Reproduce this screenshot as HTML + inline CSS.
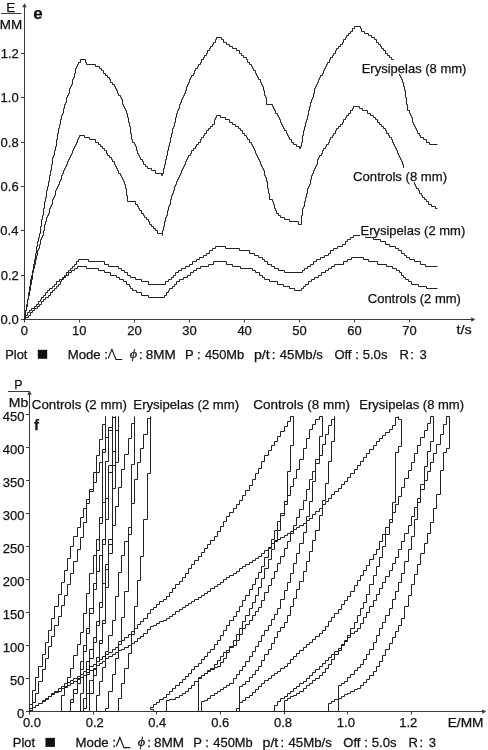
<!DOCTYPE html>
<html><head><meta charset="utf-8"><title>Plot</title>
<style>html,body{margin:0;padding:0;background:#fff;overflow:hidden}svg{display:block}</style>
</head><body>
<svg width="488" height="750" viewBox="0 0 488 750"><rect width="488" height="750" fill="#fff"/><g stroke="#3a3a3a" stroke-width="1" fill="none"><line x1="24.5" y1="6" x2="24.5" y2="320"/><line x1="24" y1="319.5" x2="472" y2="319.5"/><line x1="21" y1="319.5" x2="24.5" y2="319.5"/><line x1="21" y1="275.5" x2="24.5" y2="275.5"/><line x1="21" y1="230.5" x2="24.5" y2="230.5"/><line x1="21" y1="186.5" x2="24.5" y2="186.5"/><line x1="21" y1="142.5" x2="24.5" y2="142.5"/><line x1="21" y1="97.5" x2="24.5" y2="97.5"/><line x1="21" y1="53.5" x2="24.5" y2="53.5"/><line x1="24.5" y1="319.5" x2="24.5" y2="322.5"/><line x1="79.5" y1="319.5" x2="79.5" y2="322.5"/><line x1="134.5" y1="319.5" x2="134.5" y2="322.5"/><line x1="189.5" y1="319.5" x2="189.5" y2="322.5"/><line x1="244.5" y1="319.5" x2="244.5" y2="322.5"/><line x1="299.5" y1="319.5" x2="299.5" y2="322.5"/><line x1="354.5" y1="319.5" x2="354.5" y2="322.5"/><line x1="409.5" y1="319.5" x2="409.5" y2="322.5"/><line x1="1" y1="13.5" x2="21.5" y2="13.5"/></g><path d="M24.5,3.3 L22.2,7.2 L26.8,7.2 Z" fill="#3a3a3a"/><path d="M475.2,319.5 L471.2,317.2 L471.2,321.8 Z" fill="#3a3a3a"/><g fill="none" stroke="#222" stroke-width="1"><polyline points="24.5,319.5 24.5,315.5 25.5,315.5 25.5,310.5 26.5,310.5 26.5,304.5 27.5,304.5 27.5,299.5 28.5,299.5 28.5,292.5 29.5,292.5 29.5,286.5 30.5,286.5 30.5,279.5 31.5,279.5 31.5,275.5 32.5,275.5 32.5,270.5 33.5,270.5 33.5,264.5 34.5,264.5 34.5,259.5 35.5,259.5 35.5,253.5 36.5,253.5 36.5,246.5 37.5,246.5 37.5,241.5 38.5,241.5 38.5,237.5 39.5,237.5 39.5,233.5 40.5,233.5 40.5,226.5 41.5,226.5 41.5,219.5 42.5,219.5 42.5,215.5 43.5,215.5 43.5,208.5 44.5,208.5 44.5,201.5 45.5,201.5 45.5,197.5 46.5,197.5 46.5,190.5 47.5,190.5 47.5,186.5 48.5,186.5 48.5,181.5 49.5,181.5 49.5,175.5 50.5,175.5 50.5,170.5 51.5,170.5 51.5,164.5 52.5,164.5 52.5,157.5 53.5,157.5 53.5,155.5 54.5,155.5 54.5,150.5 55.5,150.5 55.5,146.5 56.5,146.5 56.5,139.5 57.5,139.5 57.5,133.5 58.5,133.5 58.5,128.5 59.5,128.5 59.5,124.5 60.5,124.5 60.5,119.5 61.5,119.5 61.5,115.5 62.5,115.5 62.5,113.5 63.5,113.5 63.5,108.5 64.5,108.5 64.5,104.5 65.5,104.5 65.5,102.5 66.5,102.5 66.5,97.5 67.5,97.5 67.5,95.5 68.5,95.5 68.5,93.5 69.5,93.5 69.5,88.5 70.5,88.5 70.5,86.5 71.5,86.5 71.5,84.5 72.5,84.5 72.5,79.5 73.5,79.5 73.5,77.5 74.5,77.5 74.5,73.5 75.5,73.5 75.5,68.5 76.5,68.5 76.5,66.5 77.5,66.5 77.5,64.5 78.5,64.5 78.5,62.5 80.5,62.5 80.5,59.5 85.5,59.5 85.5,62.5 86.5,62.5 86.5,64.5 95.5,64.5 95.5,66.5 99.5,66.5 99.5,68.5 101.5,68.5 101.5,70.5 103.5,70.5 103.5,73.5 105.5,73.5 105.5,75.5 107.5,75.5 107.5,77.5 109.5,77.5 109.5,79.5 110.5,79.5 110.5,82.5 112.5,82.5 112.5,84.5 114.5,84.5 114.5,86.5 115.5,86.5 115.5,88.5 116.5,88.5 116.5,90.5 117.5,90.5 117.5,93.5 118.5,93.5 118.5,95.5 120.5,95.5 120.5,97.5 121.5,97.5 121.5,99.5 122.5,99.5 122.5,104.5 123.5,104.5 123.5,106.5 124.5,106.5 124.5,108.5 125.5,108.5 125.5,110.5 126.5,110.5 126.5,113.5 127.5,113.5 127.5,117.5 128.5,117.5 128.5,122.5 129.5,122.5 129.5,126.5 130.5,126.5 130.5,133.5 131.5,133.5 131.5,139.5 132.5,139.5 132.5,142.5 134.5,142.5 134.5,144.5 135.5,144.5 135.5,146.5 136.5,146.5 136.5,150.5 137.5,150.5 137.5,153.5 138.5,153.5 138.5,155.5 139.5,155.5 139.5,157.5 140.5,157.5 140.5,159.5 142.5,159.5 142.5,161.5 143.5,161.5 143.5,164.5 145.5,164.5 145.5,166.5 147.5,166.5 147.5,168.5 151.5,168.5 151.5,170.5 155.5,170.5 155.5,173.5 161.5,173.5 161.5,175.5 162.5,175.5 162.5,173.5 163.5,173.5 163.5,168.5 164.5,168.5 164.5,164.5 165.5,164.5 165.5,159.5 166.5,159.5 166.5,155.5 167.5,155.5 167.5,150.5 168.5,150.5 168.5,146.5 169.5,146.5 169.5,142.5 170.5,142.5 170.5,137.5 171.5,137.5 171.5,133.5 172.5,133.5 172.5,128.5 173.5,128.5 173.5,126.5 174.5,126.5 174.5,122.5 175.5,122.5 175.5,117.5 176.5,117.5 176.5,113.5 177.5,113.5 177.5,110.5 178.5,110.5 178.5,108.5 179.5,108.5 179.5,104.5 180.5,104.5 180.5,102.5 181.5,102.5 181.5,99.5 182.5,99.5 182.5,97.5 183.5,97.5 183.5,95.5 184.5,95.5 184.5,93.5 185.5,93.5 185.5,90.5 186.5,90.5 186.5,86.5 187.5,86.5 187.5,84.5 188.5,84.5 188.5,82.5 189.5,82.5 189.5,79.5 190.5,79.5 190.5,77.5 191.5,77.5 191.5,75.5 193.5,75.5 193.5,73.5 194.5,73.5 194.5,70.5 195.5,70.5 195.5,68.5 197.5,68.5 197.5,66.5 198.5,66.5 198.5,64.5 200.5,64.5 200.5,62.5 201.5,62.5 201.5,59.5 203.5,59.5 203.5,57.5 204.5,57.5 204.5,55.5 206.5,55.5 206.5,53.5 207.5,53.5 207.5,50.5 209.5,50.5 209.5,48.5 210.5,48.5 210.5,46.5 212.5,46.5 212.5,44.5 213.5,44.5 213.5,42.5 215.5,42.5 215.5,39.5 216.5,39.5 216.5,37.5 221.5,37.5 221.5,39.5 223.5,39.5 223.5,42.5 226.5,42.5 226.5,44.5 229.5,44.5 229.5,46.5 232.5,46.5 232.5,48.5 236.5,48.5 236.5,50.5 239.5,50.5 239.5,53.5 241.5,53.5 241.5,55.5 243.5,55.5 243.5,57.5 246.5,57.5 246.5,59.5 247.5,59.5 247.5,62.5 249.5,62.5 249.5,64.5 251.5,64.5 251.5,66.5 252.5,66.5 252.5,68.5 253.5,68.5 253.5,70.5 255.5,70.5 255.5,73.5 256.5,73.5 256.5,75.5 257.5,75.5 257.5,77.5 258.5,77.5 258.5,79.5 260.5,79.5 260.5,82.5 261.5,82.5 261.5,84.5 262.5,84.5 262.5,86.5 263.5,86.5 263.5,90.5 264.5,90.5 264.5,95.5 265.5,95.5 265.5,97.5 266.5,97.5 266.5,104.5 272.5,104.5 272.5,106.5 273.5,106.5 273.5,108.5 274.5,108.5 274.5,110.5 275.5,110.5 275.5,113.5 277.5,113.5 277.5,115.5 278.5,115.5 278.5,117.5 279.5,117.5 279.5,119.5 280.5,119.5 280.5,122.5 281.5,122.5 281.5,124.5 282.5,124.5 282.5,126.5 283.5,126.5 283.5,128.5 284.5,128.5 284.5,130.5 286.5,130.5 286.5,133.5 287.5,133.5 287.5,135.5 288.5,135.5 288.5,137.5 289.5,137.5 289.5,139.5 291.5,139.5 291.5,142.5 293.5,142.5 293.5,144.5 296.5,144.5 296.5,146.5 299.5,146.5 299.5,148.5 300.5,148.5 300.5,146.5 301.5,146.5 301.5,142.5 302.5,142.5 302.5,135.5 303.5,135.5 303.5,130.5 304.5,130.5 304.5,126.5 305.5,126.5 305.5,122.5 306.5,122.5 306.5,119.5 307.5,119.5 307.5,115.5 308.5,115.5 308.5,110.5 309.5,110.5 309.5,106.5 310.5,106.5 310.5,102.5 311.5,102.5 311.5,99.5 312.5,99.5 312.5,97.5 313.5,97.5 313.5,93.5 314.5,93.5 314.5,88.5 315.5,88.5 315.5,86.5 316.5,86.5 316.5,84.5 317.5,84.5 317.5,82.5 318.5,82.5 318.5,79.5 319.5,79.5 319.5,77.5 320.5,77.5 320.5,75.5 322.5,75.5 322.5,73.5 323.5,73.5 323.5,70.5 324.5,70.5 324.5,68.5 325.5,68.5 325.5,66.5 326.5,66.5 326.5,64.5 327.5,64.5 327.5,62.5 329.5,62.5 329.5,59.5 330.5,59.5 330.5,57.5 332.5,57.5 332.5,55.5 333.5,55.5 333.5,53.5 335.5,53.5 335.5,50.5 336.5,50.5 336.5,48.5 338.5,48.5 338.5,46.5 340.5,46.5 340.5,44.5 342.5,44.5 342.5,42.5 343.5,42.5 343.5,39.5 345.5,39.5 345.5,37.5 346.5,37.5 346.5,35.5 348.5,35.5 348.5,33.5 350.5,33.5 350.5,31.5 352.5,31.5 352.5,28.5 354.5,28.5 354.5,26.5 360.5,26.5 360.5,28.5 361.5,28.5 361.5,31.5 364.5,31.5 364.5,33.5 368.5,33.5 368.5,35.5 371.5,35.5 371.5,37.5 374.5,37.5 374.5,39.5 376.5,39.5 376.5,42.5 378.5,42.5 378.5,44.5 380.5,44.5 380.5,46.5 381.5,46.5 381.5,48.5 383.5,48.5 383.5,50.5 385.5,50.5 385.5,53.5 387.5,53.5 387.5,55.5 389.5,55.5 389.5,57.5 391.5,57.5 391.5,59.5 393.5,59.5 393.5,62.5 394.5,62.5 394.5,64.5 395.5,64.5 395.5,66.5 396.5,66.5 396.5,68.5 397.5,68.5 397.5,70.5 398.5,70.5 398.5,73.5 399.5,73.5 399.5,75.5 400.5,75.5 400.5,77.5 401.5,77.5 401.5,79.5 402.5,79.5 402.5,82.5 403.5,82.5 403.5,86.5 404.5,86.5 404.5,90.5 405.5,90.5 405.5,97.5 406.5,97.5 406.5,104.5 407.5,104.5 407.5,110.5 409.5,110.5 409.5,113.5 410.5,113.5 410.5,115.5 411.5,115.5 411.5,117.5 412.5,117.5 412.5,122.5 413.5,122.5 413.5,124.5 414.5,124.5 414.5,126.5 415.5,126.5 415.5,128.5 416.5,128.5 416.5,130.5 417.5,130.5 417.5,133.5 419.5,133.5 419.5,135.5 420.5,135.5 420.5,137.5 423.5,137.5 423.5,139.5 426.5,139.5 426.5,142.5 429.5,142.5 429.5,144.5 437.5,144.5"/><polyline points="24.5,319.5 24.5,315.5 25.5,315.5 25.5,310.5 26.5,310.5 26.5,306.5 27.5,306.5 27.5,299.5 28.5,299.5 28.5,295.5 29.5,295.5 29.5,290.5 30.5,290.5 30.5,284.5 31.5,284.5 31.5,279.5 32.5,279.5 32.5,272.5 33.5,272.5 33.5,268.5 34.5,268.5 34.5,264.5 35.5,264.5 35.5,259.5 36.5,259.5 36.5,255.5 37.5,255.5 37.5,250.5 38.5,250.5 38.5,248.5 39.5,248.5 39.5,244.5 40.5,244.5 40.5,239.5 41.5,239.5 41.5,237.5 42.5,237.5 42.5,235.5 43.5,235.5 43.5,230.5 44.5,230.5 44.5,224.5 45.5,224.5 45.5,221.5 46.5,221.5 46.5,217.5 47.5,217.5 47.5,215.5 48.5,215.5 48.5,213.5 49.5,213.5 49.5,208.5 50.5,208.5 50.5,206.5 51.5,206.5 51.5,204.5 52.5,204.5 52.5,199.5 53.5,199.5 53.5,197.5 54.5,197.5 54.5,195.5 55.5,195.5 55.5,190.5 56.5,190.5 56.5,188.5 57.5,188.5 57.5,186.5 58.5,186.5 58.5,184.5 59.5,184.5 59.5,181.5 60.5,181.5 60.5,179.5 61.5,179.5 61.5,175.5 62.5,175.5 62.5,173.5 63.5,173.5 63.5,170.5 64.5,170.5 64.5,168.5 65.5,168.5 65.5,166.5 66.5,166.5 66.5,164.5 67.5,164.5 67.5,161.5 68.5,161.5 68.5,159.5 69.5,159.5 69.5,157.5 70.5,157.5 70.5,155.5 71.5,155.5 71.5,153.5 72.5,153.5 72.5,150.5 73.5,150.5 73.5,148.5 74.5,148.5 74.5,146.5 75.5,146.5 75.5,144.5 76.5,144.5 76.5,142.5 77.5,142.5 77.5,139.5 78.5,139.5 78.5,137.5 79.5,137.5 79.5,135.5 84.5,135.5 84.5,137.5 89.5,137.5 89.5,139.5 95.5,139.5 95.5,142.5 98.5,142.5 98.5,144.5 100.5,144.5 100.5,146.5 102.5,146.5 102.5,148.5 104.5,148.5 104.5,150.5 106.5,150.5 106.5,153.5 107.5,153.5 107.5,155.5 109.5,155.5 109.5,157.5 111.5,157.5 111.5,159.5 112.5,159.5 112.5,161.5 114.5,161.5 114.5,164.5 115.5,164.5 115.5,166.5 116.5,166.5 116.5,168.5 117.5,168.5 117.5,170.5 118.5,170.5 118.5,173.5 120.5,173.5 120.5,175.5 121.5,175.5 121.5,177.5 122.5,177.5 122.5,179.5 123.5,179.5 123.5,181.5 124.5,181.5 124.5,184.5 125.5,184.5 125.5,188.5 126.5,188.5 126.5,195.5 127.5,195.5 127.5,201.5 135.5,201.5 135.5,204.5 137.5,204.5 137.5,206.5 138.5,206.5 138.5,208.5 139.5,208.5 139.5,210.5 141.5,210.5 141.5,213.5 143.5,213.5 143.5,215.5 144.5,215.5 144.5,217.5 146.5,217.5 146.5,219.5 148.5,219.5 148.5,221.5 149.5,221.5 149.5,224.5 151.5,224.5 151.5,226.5 153.5,226.5 153.5,228.5 155.5,228.5 155.5,230.5 157.5,230.5 157.5,233.5 162.5,233.5 162.5,235.5 162.5,230.5 163.5,230.5 163.5,226.5 164.5,226.5 164.5,221.5 165.5,221.5 165.5,217.5 166.5,217.5 166.5,215.5 167.5,215.5 167.5,210.5 168.5,210.5 168.5,206.5 169.5,206.5 169.5,204.5 170.5,204.5 170.5,199.5 171.5,199.5 171.5,195.5 172.5,195.5 172.5,193.5 173.5,193.5 173.5,190.5 174.5,190.5 174.5,186.5 175.5,186.5 175.5,184.5 176.5,184.5 176.5,181.5 177.5,181.5 177.5,179.5 178.5,179.5 178.5,177.5 179.5,177.5 179.5,175.5 180.5,175.5 180.5,173.5 181.5,173.5 181.5,170.5 182.5,170.5 182.5,168.5 183.5,168.5 183.5,166.5 184.5,166.5 184.5,164.5 185.5,164.5 185.5,161.5 186.5,161.5 186.5,159.5 187.5,159.5 187.5,157.5 188.5,157.5 188.5,155.5 190.5,155.5 190.5,153.5 191.5,153.5 191.5,150.5 193.5,150.5 193.5,148.5 195.5,148.5 195.5,146.5 196.5,146.5 196.5,144.5 198.5,144.5 198.5,142.5 200.5,142.5 200.5,139.5 201.5,139.5 201.5,137.5 203.5,137.5 203.5,135.5 204.5,135.5 204.5,133.5 206.5,133.5 206.5,130.5 208.5,130.5 208.5,128.5 210.5,128.5 210.5,126.5 212.5,126.5 212.5,124.5 214.5,124.5 214.5,119.5 215.5,119.5 215.5,117.5 216.5,117.5 216.5,115.5 220.5,115.5 220.5,117.5 225.5,117.5 225.5,119.5 229.5,119.5 229.5,122.5 232.5,122.5 232.5,124.5 235.5,124.5 235.5,126.5 238.5,126.5 238.5,128.5 240.5,128.5 240.5,130.5 242.5,130.5 242.5,133.5 244.5,133.5 244.5,135.5 246.5,135.5 246.5,137.5 247.5,137.5 247.5,139.5 249.5,139.5 249.5,142.5 251.5,142.5 251.5,144.5 252.5,144.5 252.5,146.5 253.5,146.5 253.5,148.5 254.5,148.5 254.5,150.5 255.5,150.5 255.5,153.5 256.5,153.5 256.5,155.5 257.5,155.5 257.5,157.5 258.5,157.5 258.5,159.5 259.5,159.5 259.5,161.5 260.5,161.5 260.5,164.5 261.5,164.5 261.5,166.5 262.5,166.5 262.5,168.5 263.5,168.5 263.5,170.5 264.5,170.5 264.5,175.5 265.5,175.5 265.5,177.5 266.5,177.5 266.5,181.5 267.5,181.5 267.5,188.5 268.5,188.5 268.5,193.5 269.5,193.5 269.5,199.5 272.5,199.5 272.5,201.5 273.5,201.5 273.5,204.5 274.5,204.5 274.5,208.5 275.5,208.5 275.5,210.5 276.5,210.5 276.5,213.5 278.5,213.5 278.5,215.5 280.5,215.5 280.5,217.5 284.5,217.5 284.5,219.5 289.5,219.5 289.5,221.5 298.5,221.5 298.5,224.5 301.5,224.5 301.5,215.5 302.5,215.5 302.5,208.5 303.5,208.5 303.5,206.5 304.5,206.5 304.5,201.5 305.5,201.5 305.5,197.5 306.5,197.5 306.5,193.5 307.5,193.5 307.5,188.5 308.5,188.5 308.5,186.5 309.5,186.5 309.5,184.5 310.5,184.5 310.5,179.5 311.5,179.5 311.5,175.5 312.5,175.5 312.5,173.5 313.5,173.5 313.5,170.5 314.5,170.5 314.5,168.5 315.5,168.5 315.5,166.5 316.5,166.5 316.5,164.5 317.5,164.5 317.5,159.5 318.5,159.5 318.5,157.5 319.5,157.5 319.5,155.5 321.5,155.5 321.5,153.5 322.5,153.5 322.5,150.5 323.5,150.5 323.5,148.5 325.5,148.5 325.5,146.5 326.5,146.5 326.5,144.5 328.5,144.5 328.5,142.5 329.5,142.5 329.5,139.5 330.5,139.5 330.5,137.5 332.5,137.5 332.5,135.5 333.5,135.5 333.5,133.5 335.5,133.5 335.5,130.5 336.5,130.5 336.5,128.5 338.5,128.5 338.5,126.5 340.5,126.5 340.5,124.5 342.5,124.5 342.5,122.5 343.5,122.5 343.5,119.5 345.5,119.5 345.5,117.5 346.5,117.5 346.5,115.5 348.5,115.5 348.5,113.5 350.5,113.5 350.5,110.5 352.5,110.5 352.5,108.5 353.5,108.5 353.5,106.5 359.5,106.5 359.5,108.5 362.5,108.5 362.5,110.5 367.5,110.5 367.5,113.5 370.5,113.5 370.5,115.5 373.5,115.5 373.5,117.5 375.5,117.5 375.5,119.5 377.5,119.5 377.5,122.5 379.5,122.5 379.5,124.5 381.5,124.5 381.5,126.5 383.5,126.5 383.5,128.5 385.5,128.5 385.5,130.5 386.5,130.5 386.5,133.5 388.5,133.5 388.5,135.5 389.5,135.5 389.5,137.5 391.5,137.5 391.5,139.5 392.5,139.5 392.5,142.5 393.5,142.5 393.5,144.5 394.5,144.5 394.5,146.5 395.5,146.5 395.5,148.5 396.5,148.5 396.5,150.5 397.5,150.5 397.5,153.5 398.5,153.5 398.5,155.5 399.5,155.5 399.5,157.5 400.5,157.5 400.5,159.5 401.5,159.5 401.5,161.5 402.5,161.5 402.5,164.5 403.5,164.5 403.5,168.5 404.5,168.5 404.5,173.5 410.5,173.5 410.5,175.5 411.5,175.5 411.5,177.5 412.5,177.5 412.5,179.5 413.5,179.5 413.5,181.5 414.5,181.5 414.5,184.5 415.5,184.5 415.5,186.5 416.5,186.5 416.5,188.5 418.5,188.5 418.5,190.5 419.5,190.5 419.5,193.5 421.5,193.5 421.5,195.5 422.5,195.5 422.5,197.5 424.5,197.5 424.5,199.5 426.5,199.5 426.5,201.5 428.5,201.5 428.5,204.5 431.5,204.5 431.5,206.5 435.5,206.5 435.5,208.5 437.5,208.5"/><polyline points="24.5,319.5 24.5,317.5 25.5,317.5 25.5,315.5 27.5,315.5 27.5,312.5 29.5,312.5 29.5,310.5 31.5,310.5 31.5,308.5 34.5,308.5 34.5,306.5 36.5,306.5 36.5,304.5 38.5,304.5 38.5,301.5 40.5,301.5 40.5,299.5 41.5,299.5 41.5,297.5 43.5,297.5 43.5,295.5 45.5,295.5 45.5,292.5 47.5,292.5 47.5,290.5 49.5,290.5 49.5,288.5 52.5,288.5 52.5,286.5 54.5,286.5 54.5,284.5 56.5,284.5 56.5,281.5 59.5,281.5 59.5,279.5 62.5,279.5 62.5,277.5 64.5,277.5 64.5,275.5 66.5,275.5 66.5,272.5 68.5,272.5 68.5,270.5 70.5,270.5 70.5,268.5 72.5,268.5 72.5,266.5 74.5,266.5 74.5,264.5 76.5,264.5 76.5,261.5 78.5,261.5 78.5,259.5 88.5,259.5 88.5,261.5 104.5,261.5 104.5,264.5 108.5,264.5 108.5,266.5 118.5,266.5 118.5,268.5 121.5,268.5 121.5,270.5 124.5,270.5 124.5,272.5 127.5,272.5 127.5,275.5 130.5,275.5 130.5,277.5 135.5,277.5 135.5,279.5 141.5,279.5 141.5,281.5 148.5,281.5 148.5,284.5 165.5,284.5 165.5,281.5 168.5,281.5 168.5,279.5 171.5,279.5 171.5,277.5 173.5,277.5 173.5,275.5 175.5,275.5 175.5,272.5 178.5,272.5 178.5,270.5 181.5,270.5 181.5,268.5 185.5,268.5 185.5,266.5 189.5,266.5 189.5,264.5 192.5,264.5 192.5,261.5 196.5,261.5 196.5,259.5 199.5,259.5 199.5,257.5 203.5,257.5 203.5,255.5 206.5,255.5 206.5,253.5 209.5,253.5 209.5,250.5 212.5,250.5 212.5,248.5 215.5,248.5 215.5,246.5 225.5,246.5 225.5,248.5 239.5,248.5 239.5,250.5 249.5,250.5 249.5,253.5 254.5,253.5 254.5,255.5 258.5,255.5 258.5,257.5 262.5,257.5 262.5,259.5 264.5,259.5 264.5,261.5 267.5,261.5 267.5,264.5 271.5,264.5 271.5,266.5 274.5,266.5 274.5,268.5 278.5,268.5 278.5,270.5 284.5,270.5 284.5,272.5 302.5,272.5 302.5,270.5 304.5,270.5 304.5,268.5 307.5,268.5 307.5,266.5 310.5,266.5 310.5,264.5 313.5,264.5 313.5,261.5 316.5,261.5 316.5,259.5 320.5,259.5 320.5,257.5 324.5,257.5 324.5,255.5 328.5,255.5 328.5,253.5 330.5,253.5 330.5,250.5 333.5,250.5 333.5,248.5 337.5,248.5 337.5,246.5 342.5,246.5 342.5,244.5 345.5,244.5 345.5,241.5 347.5,241.5 347.5,239.5 350.5,239.5 350.5,237.5 353.5,237.5 353.5,235.5 365.5,235.5 365.5,237.5 373.5,237.5 373.5,239.5 380.5,239.5 380.5,241.5 385.5,241.5 385.5,244.5 389.5,244.5 389.5,246.5 395.5,246.5 395.5,248.5 398.5,248.5 398.5,250.5 401.5,250.5 401.5,253.5 404.5,253.5 404.5,255.5 406.5,255.5 406.5,257.5 409.5,257.5 409.5,259.5 414.5,259.5 414.5,261.5 420.5,261.5 420.5,264.5 425.5,264.5 425.5,266.5 437.5,266.5"/><polyline points="24.5,319.5 25.5,319.5 25.5,317.5 28.5,317.5 28.5,315.5 30.5,315.5 30.5,312.5 32.5,312.5 32.5,310.5 34.5,310.5 34.5,308.5 37.5,308.5 37.5,306.5 39.5,306.5 39.5,304.5 41.5,304.5 41.5,301.5 43.5,301.5 43.5,299.5 45.5,299.5 45.5,297.5 48.5,297.5 48.5,295.5 50.5,295.5 50.5,292.5 52.5,292.5 52.5,290.5 54.5,290.5 54.5,288.5 56.5,288.5 56.5,286.5 58.5,286.5 58.5,284.5 60.5,284.5 60.5,281.5 61.5,281.5 61.5,279.5 63.5,279.5 63.5,277.5 65.5,277.5 65.5,275.5 68.5,275.5 68.5,272.5 71.5,272.5 71.5,270.5 74.5,270.5 74.5,268.5 77.5,268.5 77.5,266.5 86.5,266.5 86.5,268.5 98.5,268.5 98.5,270.5 104.5,270.5 104.5,272.5 110.5,272.5 110.5,275.5 116.5,275.5 116.5,277.5 119.5,277.5 119.5,279.5 123.5,279.5 123.5,281.5 126.5,281.5 126.5,284.5 129.5,284.5 129.5,286.5 130.5,286.5 130.5,288.5 132.5,288.5 132.5,290.5 136.5,290.5 136.5,292.5 141.5,292.5 141.5,295.5 148.5,295.5 148.5,297.5 164.5,297.5 164.5,295.5 166.5,295.5 166.5,292.5 168.5,292.5 168.5,290.5 169.5,290.5 169.5,288.5 172.5,288.5 172.5,286.5 174.5,286.5 174.5,284.5 176.5,284.5 176.5,281.5 179.5,281.5 179.5,279.5 183.5,279.5 183.5,277.5 187.5,277.5 187.5,275.5 190.5,275.5 190.5,272.5 193.5,272.5 193.5,270.5 196.5,270.5 196.5,268.5 200.5,268.5 200.5,266.5 208.5,266.5 208.5,264.5 213.5,264.5 213.5,261.5 226.5,261.5 226.5,264.5 232.5,264.5 232.5,266.5 240.5,266.5 240.5,268.5 252.5,268.5 252.5,270.5 255.5,270.5 255.5,272.5 259.5,272.5 259.5,275.5 262.5,275.5 262.5,277.5 264.5,277.5 264.5,279.5 269.5,279.5 269.5,281.5 277.5,281.5 277.5,284.5 283.5,284.5 283.5,286.5 289.5,286.5 289.5,288.5 294.5,288.5 294.5,290.5 301.5,290.5 301.5,288.5 303.5,288.5 303.5,286.5 305.5,286.5 305.5,284.5 308.5,284.5 308.5,281.5 311.5,281.5 311.5,279.5 314.5,279.5 314.5,277.5 318.5,277.5 318.5,275.5 321.5,275.5 321.5,272.5 325.5,272.5 325.5,270.5 328.5,270.5 328.5,268.5 331.5,268.5 331.5,266.5 334.5,266.5 334.5,264.5 343.5,264.5 343.5,261.5 347.5,261.5 347.5,259.5 351.5,259.5 351.5,257.5 363.5,257.5 363.5,259.5 368.5,259.5 368.5,261.5 377.5,261.5 377.5,264.5 386.5,264.5 386.5,266.5 392.5,266.5 392.5,268.5 396.5,268.5 396.5,270.5 399.5,270.5 399.5,272.5 401.5,272.5 401.5,275.5 403.5,275.5 403.5,277.5 405.5,277.5 405.5,279.5 408.5,279.5 408.5,281.5 411.5,281.5 411.5,284.5 418.5,284.5 418.5,286.5 426.5,286.5 426.5,288.5 437.5,288.5"/></g><rect x="361.3" y="60.0" width="105.8" height="14.1" fill="#fff"/><rect x="352.2" y="167.9" width="95.6" height="14.1" fill="#fff"/><rect x="360.1" y="222.6" width="105.8" height="14.1" fill="#fff"/><rect x="366.9" y="290.0" width="94.9" height="14.1" fill="#fff"/><g stroke="#3a3a3a" stroke-width="1" fill="none"><line x1="29.5" y1="393" x2="29.5" y2="712"/><line x1="29" y1="711.5" x2="483" y2="711.5"/><line x1="26" y1="711.5" x2="29.5" y2="711.5"/><line x1="26" y1="678.5" x2="29.5" y2="678.5"/><line x1="26" y1="645.5" x2="29.5" y2="645.5"/><line x1="26" y1="612.5" x2="29.5" y2="612.5"/><line x1="26" y1="579.5" x2="29.5" y2="579.5"/><line x1="26" y1="546.5" x2="29.5" y2="546.5"/><line x1="26" y1="513.5" x2="29.5" y2="513.5"/><line x1="26" y1="480.5" x2="29.5" y2="480.5"/><line x1="26" y1="447.5" x2="29.5" y2="447.5"/><line x1="26" y1="414.5" x2="29.5" y2="414.5"/><line x1="29.5" y1="711.5" x2="29.5" y2="714.5"/><line x1="93.5" y1="711.5" x2="93.5" y2="714.5"/><line x1="156.5" y1="711.5" x2="156.5" y2="714.5"/><line x1="220.5" y1="711.5" x2="220.5" y2="714.5"/><line x1="284.5" y1="711.5" x2="284.5" y2="714.5"/><line x1="347.5" y1="711.5" x2="347.5" y2="714.5"/><line x1="411.5" y1="711.5" x2="411.5" y2="714.5"/><line x1="8" y1="391.5" x2="29.5" y2="391.5"/></g><path d="M29.5,390.8 L27.2,394.7 L31.8,394.7 Z" fill="#3a3a3a"/><path d="M486.2,711.5 L482.2,709.2 L482.2,713.8 Z" fill="#3a3a3a"/><g fill="none" stroke="#222" stroke-width="1"><polyline points="29.5,711.5 29.5,710.5 32.5,710.5 32.5,707.5 35.5,707.5 35.5,705.5 38.5,705.5 38.5,703.5 42.5,703.5 42.5,701.5 45.5,701.5 45.5,699.5 48.5,699.5 48.5,696.5 51.5,696.5 51.5,694.5 54.5,694.5 54.5,692.5 58.5,692.5 58.5,691.5 61.5,691.5 61.5,688.5 64.5,688.5 64.5,687.5 67.5,687.5 67.5,685.5 70.5,685.5 70.5,683.5 73.5,683.5 73.5,681.5 77.5,681.5 77.5,679.5 80.5,679.5 80.5,677.5 83.5,677.5 83.5,675.5 86.5,675.5 86.5,672.5 89.5,672.5 89.5,670.5 93.5,670.5 93.5,668.5 96.5,668.5 96.5,665.5 99.5,665.5 99.5,663.5 102.5,663.5 102.5,661.5 105.5,661.5 105.5,658.5 108.5,658.5 108.5,656.5 112.5,656.5 112.5,654.5 115.5,654.5 115.5,652.5 118.5,652.5 118.5,650.5 121.5,650.5 121.5,649.5 124.5,649.5 124.5,647.5 128.5,647.5 128.5,645.5 131.5,645.5 131.5,643.5 134.5,643.5 134.5,641.5 137.5,641.5 137.5,638.5 140.5,638.5 140.5,636.5 143.5,636.5 143.5,633.5 147.5,633.5 147.5,629.5 150.5,629.5 150.5,626.5 153.5,626.5 153.5,625.5 156.5,625.5 156.5,623.5 159.5,623.5 159.5,621.5 163.5,621.5 163.5,620.5 166.5,620.5 166.5,618.5 169.5,618.5 169.5,616.5 172.5,616.5 172.5,614.5 175.5,614.5 175.5,611.5 179.5,611.5 179.5,609.5 182.5,609.5 182.5,607.5 185.5,607.5 185.5,605.5 188.5,605.5 188.5,603.5 191.5,603.5 191.5,601.5 194.5,601.5 194.5,599.5 198.5,599.5 198.5,597.5 201.5,597.5 201.5,595.5 204.5,595.5 204.5,593.5 207.5,593.5 207.5,591.5 210.5,591.5 210.5,588.5 214.5,588.5 214.5,586.5 217.5,586.5 217.5,584.5 220.5,584.5 220.5,582.5 223.5,582.5 223.5,579.5 226.5,579.5 226.5,577.5 229.5,577.5 229.5,575.5 233.5,575.5 233.5,573.5 236.5,573.5 236.5,571.5 239.5,571.5 239.5,568.5 242.5,568.5 242.5,566.5 245.5,566.5 245.5,564.5 249.5,564.5 249.5,562.5 252.5,562.5 252.5,560.5 255.5,560.5 255.5,558.5 258.5,558.5 258.5,556.5 261.5,556.5 261.5,553.5 264.5,553.5 264.5,550.5 268.5,550.5 268.5,547.5 271.5,547.5 271.5,543.5 274.5,543.5 274.5,541.5 277.5,541.5 277.5,539.5 280.5,539.5 280.5,537.5 284.5,537.5 284.5,535.5 287.5,535.5 287.5,533.5 290.5,533.5 290.5,531.5 293.5,531.5 293.5,529.5 296.5,529.5 296.5,527.5 299.5,527.5 299.5,525.5 303.5,525.5 303.5,523.5 306.5,523.5 306.5,520.5 309.5,520.5 309.5,518.5 312.5,518.5 312.5,514.5 315.5,514.5 315.5,511.5 319.5,511.5 319.5,508.5 322.5,508.5 322.5,504.5 325.5,504.5 325.5,501.5 328.5,501.5 328.5,498.5 331.5,498.5 331.5,494.5 334.5,494.5 334.5,491.5 338.5,491.5 338.5,488.5 341.5,488.5 341.5,484.5 344.5,484.5 344.5,481.5 347.5,481.5 347.5,477.5 350.5,477.5 350.5,473.5 354.5,473.5 354.5,469.5 357.5,469.5 357.5,465.5 360.5,465.5 360.5,461.5 363.5,461.5 363.5,457.5 366.5,457.5 366.5,453.5 369.5,453.5 369.5,449.5 373.5,449.5 373.5,445.5 376.5,445.5 376.5,441.5 379.5,441.5 379.5,438.5 382.5,438.5 382.5,435.5 385.5,435.5 385.5,432.5 389.5,432.5 389.5,429.5 392.5,429.5 392.5,425.5 395.5,425.5 395.5,417.5 398.5,417.5 398.5,416.5 398.5,419.5 401.5,419.5 401.5,446.5 398.5,446.5 398.5,452.5 395.5,452.5 395.5,502.5 392.5,502.5 392.5,522.5 389.5,522.5 389.5,534.5 385.5,534.5 385.5,546.5 382.5,546.5 382.5,557.5 379.5,557.5 379.5,566.5 376.5,566.5 376.5,575.5 373.5,575.5 373.5,584.5 369.5,584.5 369.5,594.5 366.5,594.5 366.5,602.5 363.5,602.5 363.5,608.5 360.5,608.5 360.5,615.5 357.5,615.5 357.5,622.5 354.5,622.5 354.5,628.5 350.5,628.5 350.5,635.5 347.5,635.5 347.5,640.5 344.5,640.5 344.5,645.5 341.5,645.5 341.5,650.5 338.5,650.5 338.5,654.5 334.5,654.5 334.5,659.5 331.5,659.5 331.5,664.5 328.5,664.5 328.5,668.5 325.5,668.5 325.5,672.5 322.5,672.5 322.5,675.5 319.5,675.5 319.5,678.5 315.5,678.5 315.5,680.5 312.5,680.5 312.5,683.5 309.5,683.5 309.5,685.5 306.5,685.5 306.5,688.5 303.5,688.5 303.5,691.5 299.5,691.5 299.5,693.5 296.5,693.5 296.5,695.5 293.5,695.5 293.5,696.5 290.5,696.5 290.5,698.5 287.5,698.5 287.5,700.5 284.5,700.5 284.5,711.5 236.5,711.5 236.5,708.5 239.5,708.5 239.5,702.5 242.5,702.5 242.5,700.5 245.5,700.5 245.5,697.5 249.5,697.5 249.5,695.5 252.5,695.5 252.5,692.5 255.5,692.5 255.5,689.5 258.5,689.5 258.5,686.5 261.5,686.5 261.5,683.5 264.5,683.5 264.5,680.5 268.5,680.5 268.5,678.5 271.5,678.5 271.5,675.5 274.5,675.5 274.5,673.5 277.5,673.5 277.5,671.5 280.5,671.5 280.5,668.5 284.5,668.5 284.5,666.5 287.5,666.5 287.5,663.5 290.5,663.5 290.5,659.5 293.5,659.5 293.5,656.5 296.5,656.5 296.5,653.5 299.5,653.5 299.5,650.5 303.5,650.5 303.5,647.5 306.5,647.5 306.5,644.5 309.5,644.5 309.5,642.5 312.5,642.5 312.5,639.5 315.5,639.5 315.5,636.5 319.5,636.5 319.5,633.5 322.5,633.5 322.5,630.5 325.5,630.5 325.5,626.5 328.5,626.5 328.5,621.5 331.5,621.5 331.5,617.5 334.5,617.5 334.5,613.5 338.5,613.5 338.5,609.5 341.5,609.5 341.5,604.5 344.5,604.5 344.5,600.5 347.5,600.5 347.5,596.5 350.5,596.5 350.5,591.5 354.5,591.5 354.5,585.5 357.5,585.5 357.5,580.5 360.5,580.5 360.5,575.5 363.5,575.5 363.5,570.5 366.5,570.5 366.5,565.5 369.5,565.5 369.5,559.5 373.5,559.5 373.5,554.5 376.5,554.5 376.5,549.5 379.5,549.5 379.5,541.5 382.5,541.5 382.5,534.5 385.5,534.5 385.5,527.5 389.5,527.5 389.5,519.5 392.5,519.5 392.5,512.5 395.5,512.5 395.5,504.5 398.5,504.5 398.5,496.5 401.5,496.5 401.5,487.5 404.5,487.5 404.5,478.5 408.5,478.5 408.5,470.5 411.5,470.5 411.5,462.5 414.5,462.5 414.5,453.5 417.5,453.5 417.5,445.5 420.5,445.5 420.5,437.5 424.5,437.5 424.5,430.5 427.5,430.5 427.5,423.5 430.5,423.5 430.5,416.5 433.5,416.5 433.5,441.5 430.5,441.5 430.5,451.5 427.5,451.5 427.5,466.5 424.5,466.5 424.5,484.5 420.5,484.5 420.5,502.5 417.5,502.5 417.5,519.5 414.5,519.5 414.5,536.5 411.5,536.5 411.5,549.5 408.5,549.5 408.5,561.5 404.5,561.5 404.5,573.5 401.5,573.5 401.5,582.5 398.5,582.5 398.5,591.5 395.5,591.5 395.5,599.5 392.5,599.5 392.5,608.5 389.5,608.5 389.5,615.5 385.5,615.5 385.5,622.5 382.5,622.5 382.5,628.5 379.5,628.5 379.5,635.5 376.5,635.5 376.5,642.5 373.5,642.5 373.5,649.5 369.5,649.5 369.5,654.5 366.5,654.5 366.5,659.5 363.5,659.5 363.5,664.5 360.5,664.5 360.5,667.5 357.5,667.5 357.5,670.5 354.5,670.5 354.5,674.5 350.5,674.5 350.5,677.5 347.5,677.5 347.5,681.5 344.5,681.5 344.5,683.5 341.5,683.5 341.5,685.5 338.5,685.5 338.5,711.5 274.5,711.5 274.5,705.5 277.5,705.5 277.5,701.5 280.5,701.5 280.5,698.5 284.5,698.5 284.5,696.5 287.5,696.5 287.5,693.5 290.5,693.5 290.5,691.5 293.5,691.5 293.5,688.5 296.5,688.5 296.5,686.5 299.5,686.5 299.5,683.5 303.5,683.5 303.5,681.5 306.5,681.5 306.5,678.5 309.5,678.5 309.5,675.5 312.5,675.5 312.5,672.5 315.5,672.5 315.5,669.5 319.5,669.5 319.5,666.5 322.5,666.5 322.5,663.5 325.5,663.5 325.5,660.5 328.5,660.5 328.5,657.5 331.5,657.5 331.5,654.5 334.5,654.5 334.5,651.5 338.5,651.5 338.5,648.5 341.5,648.5 341.5,644.5 344.5,644.5 344.5,641.5 347.5,641.5 347.5,637.5 350.5,637.5 350.5,633.5 354.5,633.5 354.5,631.5 357.5,631.5 357.5,628.5 360.5,628.5 360.5,623.5 363.5,623.5 363.5,617.5 366.5,617.5 366.5,612.5 369.5,612.5 369.5,606.5 373.5,606.5 373.5,600.5 376.5,600.5 376.5,594.5 379.5,594.5 379.5,588.5 382.5,588.5 382.5,582.5 385.5,582.5 385.5,576.5 389.5,576.5 389.5,570.5 392.5,570.5 392.5,563.5 395.5,563.5 395.5,557.5 398.5,557.5 398.5,549.5 401.5,549.5 401.5,541.5 404.5,541.5 404.5,533.5 408.5,533.5 408.5,525.5 411.5,525.5 411.5,516.5 414.5,516.5 414.5,507.5 417.5,507.5 417.5,498.5 420.5,498.5 420.5,489.5 424.5,489.5 424.5,480.5 427.5,480.5 427.5,471.5 430.5,471.5 430.5,462.5 433.5,462.5 433.5,453.5 436.5,453.5 436.5,444.5 440.5,444.5 440.5,434.5 443.5,434.5 443.5,424.5 446.5,424.5 446.5,416.5 449.5,416.5 449.5,448.5 446.5,448.5 446.5,452.5 443.5,452.5 443.5,470.5 440.5,470.5 440.5,494.5 436.5,494.5 436.5,508.5 433.5,508.5 433.5,522.5 430.5,522.5 430.5,533.5 427.5,533.5 427.5,543.5 424.5,543.5 424.5,553.5 420.5,553.5 420.5,564.5 417.5,564.5 417.5,574.5 414.5,574.5 414.5,584.5 411.5,584.5 411.5,595.5 408.5,595.5 408.5,606.5 404.5,606.5 404.5,618.5 401.5,618.5 401.5,625.5 398.5,625.5 398.5,631.5 395.5,631.5 395.5,637.5 392.5,637.5 392.5,643.5 389.5,643.5 389.5,649.5 385.5,649.5 385.5,655.5 382.5,655.5 382.5,661.5 379.5,661.5 379.5,666.5 376.5,666.5 376.5,671.5 373.5,671.5 373.5,675.5 369.5,675.5 369.5,679.5 366.5,679.5 366.5,682.5 363.5,682.5 363.5,685.5 360.5,685.5 360.5,688.5 357.5,688.5 357.5,689.5 354.5,689.5 354.5,691.5 350.5,691.5 350.5,693.5 347.5,693.5 347.5,694.5 344.5,694.5 344.5,696.5 341.5,696.5 341.5,698.5 338.5,698.5 338.5,699.5 334.5,699.5 334.5,701.5 331.5,701.5 331.5,703.5 328.5,703.5 328.5,711.5 280.5,711.5"/><polyline points="29.5,711.5 29.5,710.5 32.5,710.5 32.5,707.5 35.5,707.5 35.5,705.5 38.5,705.5 38.5,703.5 42.5,703.5 42.5,700.5 45.5,700.5 45.5,698.5 48.5,698.5 48.5,696.5 51.5,696.5 51.5,693.5 54.5,693.5 54.5,691.5 58.5,691.5 58.5,688.5 61.5,688.5 61.5,686.5 64.5,686.5 64.5,683.5 67.5,683.5 67.5,682.5 70.5,682.5 70.5,680.5 73.5,680.5 73.5,678.5 77.5,678.5 77.5,676.5 80.5,676.5 80.5,674.5 83.5,674.5 83.5,671.5 86.5,671.5 86.5,669.5 89.5,669.5 89.5,666.5 93.5,666.5 93.5,664.5 96.5,664.5 96.5,661.5 99.5,661.5 99.5,659.5 102.5,659.5 102.5,656.5 105.5,656.5 105.5,654.5 108.5,654.5 108.5,652.5 112.5,652.5 112.5,649.5 115.5,649.5 115.5,647.5 118.5,647.5 118.5,644.5 121.5,644.5 121.5,640.5 124.5,640.5 124.5,637.5 128.5,637.5 128.5,634.5 131.5,634.5 131.5,631.5 134.5,631.5 134.5,628.5 137.5,628.5 137.5,624.5 140.5,624.5 140.5,621.5 143.5,621.5 143.5,618.5 147.5,618.5 147.5,613.5 150.5,613.5 150.5,609.5 153.5,609.5 153.5,607.5 156.5,607.5 156.5,604.5 159.5,604.5 159.5,601.5 163.5,601.5 163.5,599.5 166.5,599.5 166.5,596.5 169.5,596.5 169.5,592.5 172.5,592.5 172.5,588.5 175.5,588.5 175.5,584.5 179.5,584.5 179.5,581.5 182.5,581.5 182.5,577.5 185.5,577.5 185.5,573.5 188.5,573.5 188.5,568.5 191.5,568.5 191.5,564.5 194.5,564.5 194.5,560.5 198.5,560.5 198.5,556.5 201.5,556.5 201.5,552.5 204.5,552.5 204.5,548.5 207.5,548.5 207.5,544.5 210.5,544.5 210.5,540.5 214.5,540.5 214.5,536.5 217.5,536.5 217.5,531.5 220.5,531.5 220.5,526.5 223.5,526.5 223.5,521.5 226.5,521.5 226.5,516.5 229.5,516.5 229.5,512.5 233.5,512.5 233.5,508.5 236.5,508.5 236.5,504.5 239.5,504.5 239.5,500.5 242.5,500.5 242.5,495.5 245.5,495.5 245.5,490.5 249.5,490.5 249.5,485.5 252.5,485.5 252.5,479.5 255.5,479.5 255.5,473.5 258.5,473.5 258.5,468.5 261.5,468.5 261.5,461.5 264.5,461.5 264.5,455.5 268.5,455.5 268.5,450.5 271.5,450.5 271.5,445.5 274.5,445.5 274.5,441.5 277.5,441.5 277.5,436.5 280.5,436.5 280.5,431.5 284.5,431.5 284.5,426.5 287.5,426.5 287.5,421.5 290.5,421.5 290.5,416.5 293.5,416.5 293.5,445.5 290.5,445.5 290.5,471.5 287.5,471.5 287.5,501.5 284.5,501.5 284.5,515.5 280.5,515.5 280.5,530.5 277.5,530.5 277.5,540.5 274.5,540.5 274.5,549.5 271.5,549.5 271.5,559.5 268.5,559.5 268.5,568.5 264.5,568.5 264.5,578.5 261.5,578.5 261.5,587.5 258.5,587.5 258.5,595.5 255.5,595.5 255.5,602.5 252.5,602.5 252.5,608.5 249.5,608.5 249.5,615.5 245.5,615.5 245.5,621.5 242.5,621.5 242.5,628.5 239.5,628.5 239.5,634.5 236.5,634.5 236.5,640.5 233.5,640.5 233.5,646.5 229.5,646.5 229.5,652.5 226.5,652.5 226.5,658.5 223.5,658.5 223.5,662.5 220.5,662.5 220.5,666.5 217.5,666.5 217.5,667.5 214.5,667.5 214.5,669.5 210.5,669.5 210.5,671.5 207.5,671.5 207.5,673.5 204.5,673.5 204.5,675.5 201.5,675.5 201.5,677.5 198.5,677.5 198.5,711.5 153.5,711.5 153.5,709.5 150.5,709.5 150.5,707.5 153.5,707.5 153.5,704.5 156.5,704.5 156.5,702.5 159.5,702.5 159.5,699.5 163.5,699.5 163.5,697.5 166.5,697.5 166.5,694.5 169.5,694.5 169.5,691.5 172.5,691.5 172.5,688.5 175.5,688.5 175.5,685.5 179.5,685.5 179.5,682.5 182.5,682.5 182.5,679.5 185.5,679.5 185.5,676.5 188.5,676.5 188.5,673.5 191.5,673.5 191.5,669.5 194.5,669.5 194.5,666.5 198.5,666.5 198.5,663.5 201.5,663.5 201.5,659.5 204.5,659.5 204.5,656.5 207.5,656.5 207.5,652.5 210.5,652.5 210.5,649.5 214.5,649.5 214.5,644.5 217.5,644.5 217.5,640.5 220.5,640.5 220.5,635.5 223.5,635.5 223.5,630.5 226.5,630.5 226.5,625.5 229.5,625.5 229.5,620.5 233.5,620.5 233.5,616.5 236.5,616.5 236.5,611.5 239.5,611.5 239.5,606.5 242.5,606.5 242.5,600.5 245.5,600.5 245.5,595.5 249.5,595.5 249.5,589.5 252.5,589.5 252.5,584.5 255.5,584.5 255.5,578.5 258.5,578.5 258.5,572.5 261.5,572.5 261.5,566.5 264.5,566.5 264.5,557.5 268.5,557.5 268.5,548.5 271.5,548.5 271.5,539.5 274.5,539.5 274.5,530.5 277.5,530.5 277.5,521.5 280.5,521.5 280.5,513.5 284.5,513.5 284.5,504.5 287.5,504.5 287.5,495.5 290.5,495.5 290.5,486.5 293.5,486.5 293.5,478.5 296.5,478.5 296.5,469.5 299.5,469.5 299.5,459.5 303.5,459.5 303.5,448.5 306.5,448.5 306.5,438.5 309.5,438.5 309.5,429.5 312.5,429.5 312.5,424.5 315.5,424.5 315.5,419.5 319.5,419.5 319.5,416.5 322.5,416.5 322.5,436.5 319.5,436.5 319.5,459.5 315.5,459.5 315.5,481.5 312.5,481.5 312.5,501.5 309.5,501.5 309.5,516.5 306.5,516.5 306.5,532.5 303.5,532.5 303.5,543.5 299.5,543.5 299.5,553.5 296.5,553.5 296.5,563.5 293.5,563.5 293.5,573.5 290.5,573.5 290.5,582.5 287.5,582.5 287.5,590.5 284.5,590.5 284.5,599.5 280.5,599.5 280.5,608.5 277.5,608.5 277.5,614.5 274.5,614.5 274.5,619.5 271.5,619.5 271.5,625.5 268.5,625.5 268.5,630.5 264.5,630.5 264.5,635.5 261.5,635.5 261.5,641.5 258.5,641.5 258.5,646.5 255.5,646.5 255.5,651.5 252.5,651.5 252.5,656.5 249.5,656.5 249.5,661.5 245.5,661.5 245.5,666.5 242.5,666.5 242.5,670.5 239.5,670.5 239.5,674.5 236.5,674.5 236.5,678.5 233.5,678.5 233.5,683.5 229.5,683.5 229.5,685.5 226.5,685.5 226.5,687.5 223.5,687.5 223.5,689.5 220.5,689.5 220.5,691.5 217.5,691.5 217.5,693.5 214.5,693.5 214.5,695.5 210.5,695.5 210.5,698.5 207.5,698.5 207.5,700.5 204.5,700.5 204.5,701.5 201.5,701.5 201.5,711.5 166.5,711.5 166.5,700.5 169.5,700.5 169.5,699.5 175.5,699.5 175.5,697.5 179.5,697.5 179.5,695.5 182.5,695.5 182.5,693.5 185.5,693.5 185.5,691.5 188.5,691.5 188.5,688.5 191.5,688.5 191.5,685.5 194.5,685.5 194.5,681.5 198.5,681.5 198.5,678.5 201.5,678.5 201.5,675.5 204.5,675.5 204.5,673.5 207.5,673.5 207.5,670.5 210.5,670.5 210.5,668.5 214.5,668.5 214.5,664.5 217.5,664.5 217.5,660.5 220.5,660.5 220.5,656.5 223.5,656.5 223.5,652.5 226.5,652.5 226.5,650.5 229.5,650.5 229.5,647.5 233.5,647.5 233.5,645.5 236.5,645.5 236.5,640.5 239.5,640.5 239.5,634.5 242.5,634.5 242.5,628.5 245.5,628.5 245.5,624.5 249.5,624.5 249.5,620.5 252.5,620.5 252.5,615.5 255.5,615.5 255.5,611.5 258.5,611.5 258.5,607.5 261.5,607.5 261.5,600.5 264.5,600.5 264.5,592.5 268.5,592.5 268.5,585.5 271.5,585.5 271.5,578.5 274.5,578.5 274.5,571.5 277.5,571.5 277.5,563.5 280.5,563.5 280.5,556.5 284.5,556.5 284.5,548.5 287.5,548.5 287.5,541.5 290.5,541.5 290.5,533.5 293.5,533.5 293.5,525.5 296.5,525.5 296.5,517.5 299.5,517.5 299.5,509.5 303.5,509.5 303.5,500.5 306.5,500.5 306.5,489.5 309.5,489.5 309.5,479.5 312.5,479.5 312.5,471.5 315.5,471.5 315.5,463.5 319.5,463.5 319.5,455.5 322.5,455.5 322.5,444.5 325.5,444.5 325.5,434.5 328.5,434.5 328.5,425.5 331.5,425.5 331.5,419.5 334.5,419.5 334.5,416.5 334.5,441.5 331.5,441.5 331.5,461.5 328.5,461.5 328.5,483.5 325.5,483.5 325.5,500.5 322.5,500.5 322.5,515.5 319.5,515.5 319.5,530.5 315.5,530.5 315.5,540.5 312.5,540.5 312.5,551.5 309.5,551.5 309.5,561.5 306.5,561.5 306.5,571.5 303.5,571.5 303.5,581.5 299.5,581.5 299.5,589.5 296.5,589.5 296.5,598.5 293.5,598.5 293.5,606.5 290.5,606.5 290.5,615.5 287.5,615.5 287.5,622.5 284.5,622.5 284.5,627.5 280.5,627.5 280.5,631.5 277.5,631.5 277.5,637.5 274.5,637.5 274.5,643.5 271.5,643.5 271.5,649.5 268.5,649.5 268.5,654.5 264.5,654.5 264.5,660.5 261.5,660.5 261.5,666.5 258.5,666.5 258.5,670.5 255.5,670.5 255.5,674.5 252.5,674.5 252.5,677.5 249.5,677.5 249.5,681.5 245.5,681.5 245.5,684.5 242.5,684.5 242.5,686.5 239.5,686.5 239.5,711.5 188.5,711.5"/><polyline points="29.5,711.5 29.5,708.5 32.5,708.5 32.5,702.5 35.5,702.5 35.5,693.5 38.5,693.5 38.5,681.5 42.5,681.5 42.5,669.5 45.5,669.5 45.5,658.5 48.5,658.5 48.5,646.5 51.5,646.5 51.5,636.5 54.5,636.5 54.5,625.5 58.5,625.5 58.5,616.5 61.5,616.5 61.5,605.5 64.5,605.5 64.5,595.5 67.5,595.5 67.5,584.5 70.5,584.5 70.5,573.5 73.5,573.5 73.5,561.5 77.5,561.5 77.5,549.5 80.5,549.5 80.5,537.5 83.5,537.5 83.5,522.5 86.5,522.5 86.5,503.5 89.5,503.5 89.5,491.5 93.5,491.5 93.5,482.5 96.5,482.5 96.5,472.5 99.5,472.5 99.5,462.5 102.5,462.5 102.5,449.5 105.5,449.5 105.5,437.5 108.5,437.5 108.5,427.5 112.5,427.5 112.5,417.5 115.5,417.5 115.5,416.5 115.5,465.5 112.5,465.5 112.5,553.5 108.5,553.5 108.5,569.5 105.5,569.5 105.5,623.5 102.5,623.5 102.5,643.5 99.5,643.5 99.5,661.5 96.5,661.5 96.5,675.5 93.5,675.5 93.5,693.5 89.5,693.5 89.5,711.5 80.5,711.5 80.5,693.5 83.5,693.5 83.5,675.5 86.5,675.5 86.5,661.5 89.5,661.5 89.5,649.5 93.5,649.5 93.5,637.5 96.5,637.5 96.5,621.5 99.5,621.5 99.5,602.5 102.5,602.5 102.5,583.5 105.5,583.5 105.5,564.5 108.5,564.5 108.5,544.5 112.5,544.5 112.5,525.5 115.5,525.5 115.5,506.5 118.5,506.5 118.5,487.5 121.5,487.5 121.5,469.5 124.5,469.5 124.5,454.5 128.5,454.5 128.5,438.5 131.5,438.5 131.5,423.5 134.5,423.5 134.5,416.5 134.5,464.5 131.5,464.5 131.5,534.5 128.5,534.5 128.5,591.5 124.5,591.5 124.5,617.5 121.5,617.5 121.5,641.5 118.5,641.5 118.5,658.5 115.5,658.5 115.5,674.5 112.5,674.5 112.5,691.5 108.5,691.5 108.5,708.5 105.5,708.5 105.5,711.5 96.5,711.5 96.5,695.5 99.5,695.5 99.5,681.5 102.5,681.5 102.5,667.5 105.5,667.5 105.5,651.5 108.5,651.5 108.5,635.5 112.5,635.5 112.5,620.5 115.5,620.5 115.5,596.5 118.5,596.5 118.5,572.5 121.5,572.5 121.5,555.5 124.5,555.5 124.5,541.5 128.5,541.5 128.5,527.5 131.5,527.5 131.5,503.5 134.5,503.5 134.5,479.5 137.5,479.5 137.5,462.5 140.5,462.5 140.5,448.5 143.5,448.5 143.5,434.5 147.5,434.5 147.5,418.5 150.5,418.5 150.5,416.5 150.5,473.5 147.5,473.5 147.5,519.5 143.5,519.5 143.5,556.5 140.5,556.5 140.5,580.5 137.5,580.5 137.5,606.5 134.5,606.5 134.5,634.5 131.5,634.5 131.5,653.5 128.5,653.5 128.5,668.5 124.5,668.5 124.5,683.5 121.5,683.5 121.5,698.5 118.5,698.5 118.5,711.5 105.5,711.5"/><polyline points="29.5,711.5 29.5,704.5 32.5,704.5 32.5,690.5 35.5,690.5 35.5,677.5 38.5,677.5 38.5,666.5 42.5,666.5 42.5,654.5 45.5,654.5 45.5,642.5 48.5,642.5 48.5,630.5 51.5,630.5 51.5,618.5 54.5,618.5 54.5,606.5 58.5,606.5 58.5,594.5 61.5,594.5 61.5,582.5 64.5,582.5 64.5,570.5 67.5,570.5 67.5,558.5 70.5,558.5 70.5,546.5 73.5,546.5 73.5,536.5 77.5,536.5 77.5,527.5 80.5,527.5 80.5,517.5 83.5,517.5 83.5,508.5 86.5,508.5 86.5,499.5 89.5,499.5 89.5,489.5 93.5,489.5 93.5,472.5 96.5,472.5 96.5,455.5 99.5,455.5 99.5,439.5 102.5,439.5 102.5,424.5 105.5,424.5 105.5,416.5 105.5,452.5 102.5,452.5 102.5,517.5 99.5,517.5 99.5,550.5 96.5,550.5 96.5,583.5 93.5,583.5 93.5,613.5 89.5,613.5 89.5,633.5 86.5,633.5 86.5,651.5 83.5,651.5 83.5,669.5 80.5,669.5 80.5,683.5 77.5,683.5 77.5,693.5 73.5,693.5 73.5,702.5 70.5,702.5 70.5,711.5 61.5,711.5 61.5,695.5 64.5,695.5 64.5,686.5 67.5,686.5 67.5,677.5 70.5,677.5 70.5,668.5 73.5,668.5 73.5,655.5 77.5,655.5 77.5,644.5 80.5,644.5 80.5,632.5 83.5,632.5 83.5,613.5 86.5,613.5 86.5,593.5 89.5,593.5 89.5,573.5 93.5,573.5 93.5,555.5 96.5,555.5 96.5,539.5 99.5,539.5 99.5,523.5 102.5,523.5 102.5,502.5 105.5,502.5 105.5,461.5 108.5,461.5 108.5,430.5 112.5,430.5 112.5,416.5 112.5,465.5 108.5,465.5 108.5,498.5 105.5,498.5 105.5,544.5 102.5,544.5 102.5,607.5 99.5,607.5 99.5,625.5 96.5,625.5 96.5,642.5 93.5,642.5 93.5,658.5 89.5,658.5 89.5,674.5 86.5,674.5 86.5,698.5 83.5,698.5 83.5,711.5 70.5,711.5 70.5,699.5 73.5,699.5 73.5,689.5 77.5,689.5 77.5,678.5 80.5,678.5 80.5,661.5 83.5,661.5 83.5,645.5 86.5,645.5 86.5,628.5 89.5,628.5 89.5,608.5 93.5,608.5 93.5,589.5 96.5,589.5 96.5,571.5 99.5,571.5 99.5,555.5 102.5,555.5 102.5,539.5 105.5,539.5 105.5,519.5 108.5,519.5 108.5,472.5 112.5,472.5 112.5,451.5 115.5,451.5 115.5,430.5 118.5,430.5 118.5,416.5 118.5,462.5 115.5,462.5 115.5,488.5 112.5,488.5 112.5,539.5 108.5,539.5 108.5,587.5 105.5,587.5 105.5,620.5 102.5,620.5 102.5,640.5 99.5,640.5 99.5,657.5 96.5,657.5 96.5,669.5 93.5,669.5 93.5,680.5 89.5,680.5 89.5,693.5 86.5,693.5 86.5,708.5 83.5,708.5 83.5,711.5 73.5,711.5"/></g><g transform="translate(0,0) scale(1.0,1)"><rect x="37.8" y="349.8" width="9.4" height="9" fill="#111"/><polyline points="108.2,358.4 111.9,349.4 116,359.5 122.2,359.5" fill="none" stroke="#111" stroke-width="1.15"/></g><g transform="translate(7.5,388.1) scale(1.0043,1)"><rect x="37.8" y="349.8" width="9.4" height="9" fill="#111"/><polyline points="108.2,358.4 111.9,349.4 116,359.5 122.2,359.5" fill="none" stroke="#111" stroke-width="1.15"/></g><g font-family="Liberation Sans, Arial, sans-serif" font-size="13" fill="#111" stroke="#111" stroke-width="0.25"><text x="6.28" y="11.50" textLength="9.04" lengthAdjust="spacingAndGlyphs">E</text><text x="-0.32" y="29.20" textLength="22.45" lengthAdjust="spacingAndGlyphs">MM</text><text x="33.17" y="19.00" font-size="17" font-weight="bold">e</text><text x="0.60" y="323.80">0.0</text><text x="0.73" y="279.80">0.2</text><text x="0.35" y="234.80">0.4</text><text x="0.60" y="190.80">0.6</text><text x="0.60" y="146.80">0.8</text><text x="0.60" y="101.80">1.0</text><text x="0.73" y="57.80">1.2</text><text x="20.82" y="334.80">0</text><text x="72.01" y="334.80">10</text><text x="127.20" y="334.80">20</text><text x="182.26" y="334.80">30</text><text x="237.39" y="334.80">40</text><text x="292.26" y="334.80">50</text><text x="347.20" y="334.80">60</text><text x="402.20" y="334.80">70</text><text x="456.55" y="334.00" textLength="15.21" lengthAdjust="spacingAndGlyphs">t/s</text><text x="361.68" y="72.80">Erysipelas (8 mm)</text><text x="353.07" y="180.70" textLength="94.05" lengthAdjust="spacingAndGlyphs">Controls (8 mm)</text><text x="360.48" y="235.40">Erysipelas (2 mm)</text><text x="367.77" y="302.80">Controls (2 mm)</text><text x="14.28" y="388.80" textLength="8.32" lengthAdjust="spacingAndGlyphs">P</text><text x="8.88" y="407.00" textLength="19.52" lengthAdjust="spacingAndGlyphs">Mb</text><text x="34.05" y="429.80" font-size="15" font-weight="bold">f</text><text x="17.05" y="717.50">0</text><text x="9.93" y="684.50">50</text><text x="2.68" y="651.50">100</text><text x="2.68" y="618.50">150</text><text x="2.68" y="585.50">200</text><text x="2.68" y="552.50">250</text><text x="2.68" y="519.50">300</text><text x="2.68" y="486.50">350</text><text x="2.68" y="453.50">400</text><text x="2.68" y="420.50">450</text><text x="22.90" y="727.40">0.0</text><text x="85.66" y="727.40">0.2</text><text x="148.28" y="727.40">0.4</text><text x="211.20" y="727.40">0.6</text><text x="274.00" y="727.40">0.8</text><text x="336.85" y="727.40">1.0</text><text x="399.21" y="727.40">1.2</text><text x="447.68" y="727.30" textLength="35.82" lengthAdjust="spacingAndGlyphs">E/MM</text><text x="31.88" y="409.20" textLength="95.07" lengthAdjust="spacingAndGlyphs">Controls (2 mm)</text><text x="133.38" y="409.20" textLength="105.72" lengthAdjust="spacingAndGlyphs">Erysipelas (2 mm)</text><text x="253.38" y="409.20" textLength="96.59" lengthAdjust="spacingAndGlyphs">Controls (8 mm)</text><text x="359.27" y="409.20">Erysipelas (8 mm)</text><text x="5.28" y="358.60" textLength="22.17" lengthAdjust="spacingAndGlyphs">Plot</text><text x="67.78" y="358.60" textLength="32.90" lengthAdjust="spacingAndGlyphs">Mode</text><text x="104.25" y="358.60">:</text><text x="129.65" y="357.70" font-family="Liberation Serif" font-style="italic" textLength="7.37" lengthAdjust="spacingAndGlyphs">ϕ</text><text x="139.05" y="358.60">:</text><text x="145.78" y="358.60" textLength="30.00" lengthAdjust="spacingAndGlyphs">8MM</text><text x="185.07" y="358.60">P</text><text x="196.95" y="358.60">:</text><text x="204.95" y="358.60" textLength="39.24" lengthAdjust="spacingAndGlyphs">450Mb</text><text x="253.93" y="358.60" textLength="15.75" lengthAdjust="spacingAndGlyphs">p/t</text><text x="271.75" y="358.60">:</text><text x="279.75" y="358.60" textLength="43.18" lengthAdjust="spacingAndGlyphs">45Mb/s</text><text x="334.38" y="358.60">Off</text><text x="355.35" y="358.60">:</text><text x="362.70" y="358.60" textLength="24.76" lengthAdjust="spacingAndGlyphs">5.0s</text><text x="399.38" y="358.60">R</text><text x="410.35" y="358.60">:</text><text x="419.50" y="358.60">3</text><g transform="translate(7.5,388.1) scale(1.0043,1)"><text x="5.28" y="358.60" textLength="22.17" lengthAdjust="spacingAndGlyphs">Plot</text><text x="67.78" y="358.60" textLength="32.90" lengthAdjust="spacingAndGlyphs">Mode</text><text x="104.25" y="358.60">:</text><text x="129.65" y="357.70" font-family="Liberation Serif" font-style="italic" textLength="7.37" lengthAdjust="spacingAndGlyphs">ϕ</text><text x="139.05" y="358.60">:</text><text x="145.78" y="358.60" textLength="30.00" lengthAdjust="spacingAndGlyphs">8MM</text><text x="185.07" y="358.60">P</text><text x="196.95" y="358.60">:</text><text x="204.95" y="358.60" textLength="39.24" lengthAdjust="spacingAndGlyphs">450Mb</text><text x="253.93" y="358.60" textLength="15.75" lengthAdjust="spacingAndGlyphs">p/t</text><text x="271.75" y="358.60">:</text><text x="279.75" y="358.60" textLength="43.18" lengthAdjust="spacingAndGlyphs">45Mb/s</text><text x="334.38" y="358.60">Off</text><text x="355.35" y="358.60">:</text><text x="362.70" y="358.60" textLength="24.76" lengthAdjust="spacingAndGlyphs">5.0s</text><text x="399.38" y="358.60">R</text><text x="410.35" y="358.60">:</text><text x="419.50" y="358.60">3</text></g></g></svg>
</body></html>
